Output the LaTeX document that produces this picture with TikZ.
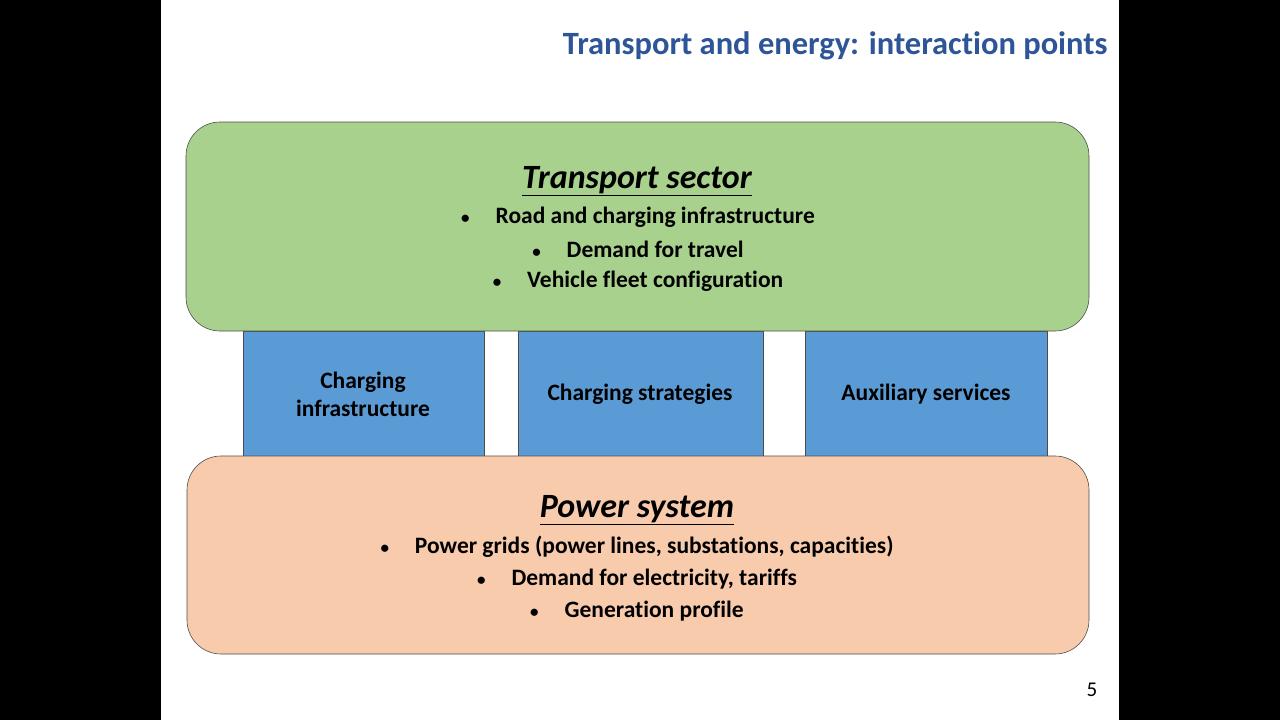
\documentclass[tikz,border=0pt]{standalone}
\usepackage{fontspec}
\setmainfont[Ligatures={NoCommon}]{Carlito}
\definecolor{tgreen}{HTML}{A9D18E}
\definecolor{tblue}{HTML}{5B9BD5}
\definecolor{torange}{HTML}{F8CBAD}
\definecolor{ttitle}{HTML}{2E5597}
\newcommand{\bul}{{\fontsize{17}{20}\selectfont•}\hspace{26pt}}
\begin{document}
\begin{tikzpicture}[x=1pt,y=-1pt,
  big/.style={draw=black!70,line width=0.6pt,rounded corners=34pt},
  small/.style={draw=black!70,line width=0.6pt,fill=tblue},
  txt/.style={font=\fontsize{23.5}{28}\selectfont\bfseries,align=center},
  head/.style={font=\fontsize{34}{38}\selectfont\bfseries\itshape}]
\useasboundingbox (0,0) rectangle (1280,720);
\fill[black] (0,0) rectangle (1280,720);
\fill[white] (161,0) rectangle (1119,720);
\node[anchor=east,text=ttitle,font=\fontsize{32.5}{36}\selectfont\bfseries] (title) at (1111,46) {Transport and energy: interaction points};
\draw[small] (243,331) rectangle (484,456);
\draw[small] (518,331) rectangle (763,456);
\draw[small] (805,331) rectangle (1047,456);
\draw[big,fill=tgreen] (186,122) rectangle (1089,331);
\draw[big,fill=torange] (187,456) rectangle (1089,654);
\node[txt] (c1) at (363,394) {Charging\\infrastructure};
\node[txt] (c2) at (640,394) {Charging strategies};
\node[txt] (c3) at (926,394) {Auxiliary services};
\node[head] (th) at (637,181) {\underline{Transport sector}};
\node[txt] (t1) at (638,217) {\bul Road and charging infrastructure};
\node[txt] (t2) at (638,249) {\bul Demand for travel};
\node[txt] (t3) at (638,281) {\bul Vehicle fleet configuration};
\node[head] (ph) at (637,510) {\underline{Power system}};
\node[txt] (p1) at (637,547) {\bul Power grids (power lines, substations, capacities)};
\node[txt] (p2) at (637,579) {\bul Demand for electricity, tariffs};
\node[txt] (p3) at (637,611) {\bul Generation profile};
\node[font=\fontsize{21}{24}\selectfont] (pg) at (1092,690) {5};
\end{tikzpicture}
\end{document}
